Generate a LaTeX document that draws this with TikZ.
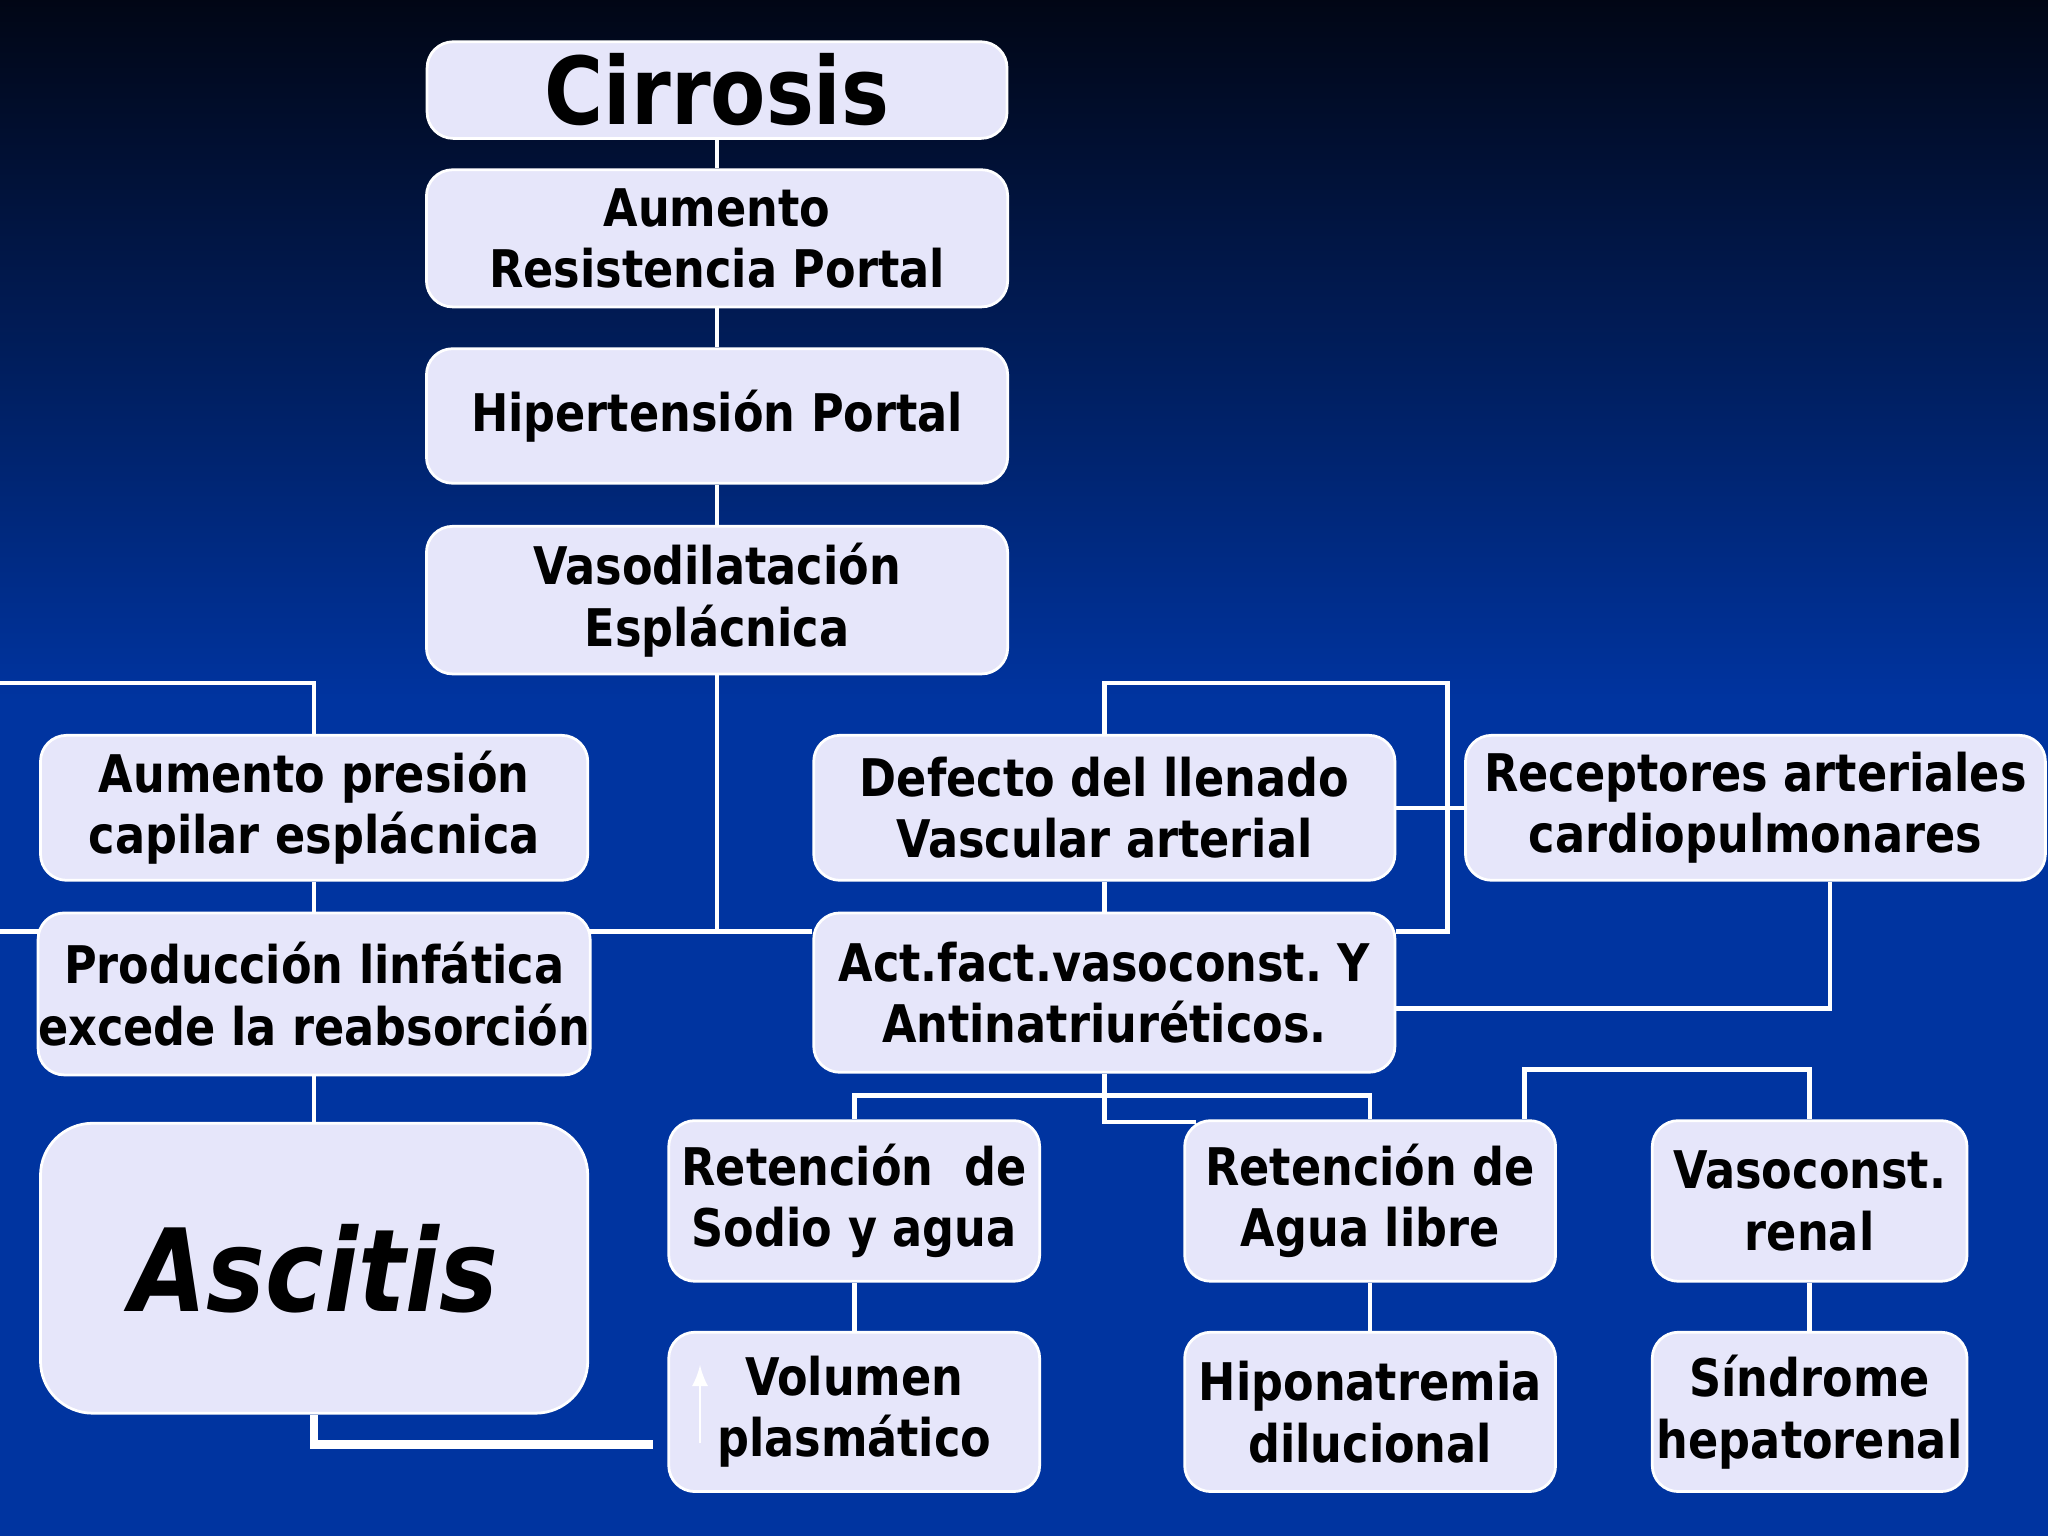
\documentclass[tikz,border=0pt]{standalone}
\usepackage{fontspec}
\setmainfont{DejaVu Sans}[FakeStretch=0.86]
\frenchspacing
\usetikzlibrary{shapes,arrows,backgrounds}
\definecolor{bgtop}{HTML}{01040F}
\definecolor{bgmid}{HTML}{001850}
\definecolor{bgblue}{HTML}{0034A0}
\definecolor{boxfill}{HTML}{E6E6FA}
\tikzstyle{block} = [draw=white, line width=0.6pt, fill=boxfill, rectangle,
    rounded corners=0.2cm, inner sep=0pt, align=center, text=black,
    font=\fontsize{11.3}{13.4}\selectfont\bfseries]
\tikzstyle{link} = [draw=white, line width=1pt]
\begin{document}
\begin{tikzpicture}
\useasboundingbox (0,0) rectangle (15.68,11.76);
 \coordinate (jT) at (-0.1,6.53);
 \coordinate (jL) at (-0.1,4.63);
 \coordinate (jR) at (11.08,6.53);
 \coordinate (vend) at (5.00,0.70);

% central column
\node[block, name=cirrosis, minimum width=4.44cm, minimum height=0.74cm,
  font=\fontsize{20.4}{24}\selectfont\bfseries] at (5.49,11.07) {Cirrosis};
\node[block, name=resist, minimum width=4.45cm, minimum height=1.05cm] at (5.49,9.935) {Aumento\\Resistencia Portal};
\node[block, name=hiper, minimum width=4.45cm, minimum height=1.03cm] at (5.49,8.575) {Hipertensión Portal};
\node[block, name=vaso, minimum width=4.45cm, minimum height=1.13cm] at (5.49,7.165) {Vasodilatación\\Esplácnica};

% left column
\node[block, name=presion, minimum width=4.19cm, minimum height=1.11cm] at (2.405,5.575) {Aumento presión\\capilar esplácnica};
\node[block, name=linfa, minimum width=4.19cm, minimum height=1.24cm] at (2.405,4.15) {Producción linfática\\excede la reabsorción};
\node[block, name=ascitis, minimum width=4.19cm, minimum height=2.22cm, rounded corners=0.4cm,
  font=\fontsize{25}{30}\selectfont\bfseries\itshape] at (2.405,2.05) {Ascitis};

% right part
\node[block, name=defecto, minimum width=4.45cm, minimum height=1.11cm] at (8.455,5.575) {Defecto del llenado\\Vascular arterial};
\node[block, name=recept, minimum width=4.44cm, minimum height=1.11cm] at (13.44,5.575) {Receptores arteriales\\cardiopulmonares};
\node[block, name=act, minimum width=4.45cm, minimum height=1.22cm] at (8.455,4.16) {Act.fact.vasoconst. Y\\Antinatriuréticos.};

\node[block, name=sodio, minimum width=2.84cm, minimum height=1.23cm] at (6.54,2.565) {Retención~~de\\Sodio y agua};
\node[block, name=agua, minimum width=2.84cm, minimum height=1.23cm] at (10.49,2.565) {Retención de\\Agua libre};
\node[block, name=renal, minimum width=2.41cm, minimum height=1.23cm] at (13.855,2.565) {Vasoconst.\\renal};
\node[block, name=volumen, minimum width=2.84cm, minimum height=1.22cm] at (6.54,0.95) {Volumen\\plasmático};
\node[block, name=hipona, minimum width=2.84cm, minimum height=1.22cm] at (10.49,0.95) {Hiponatremia\\dilucional};
\node[block, name=hepato, minimum width=2.41cm, minimum height=1.22cm] at (13.855,0.95) {Síndrome\\hepatorenal};

\draw[white, line width=0.6pt, -latex] ([xshift=0.25cm,yshift=-0.24cm]volumen.west) -- ++(0,0.6);

\begin{scope}[on background layer]
\fill[bgblue] (-0.2,-0.2) rectangle (15.9,6.4);
\shade[top color=bgtop, middle color=bgmid, bottom color=bgblue] (-0.2,6.39) rectangle (15.9,12.0);

\draw[link] (cirrosis.south) -- (resist.north);
\draw[link] (resist.south) -- (hiper.north);
\draw[link] (hiper.south) -- (vaso.north);
\draw[link] (vaso.south) -- (vaso.south |- jL);
\draw[link] (jL) -- (act.west |- jL);
\draw[link] (jT) -| (presion.north);
\draw[link] (presion.south) -- (linfa.north);
\draw[link] (linfa.south) -- (ascitis.north);
\draw[link, line width=1.8pt] (ascitis.south) |- (vend);

\draw[link] (defecto.north) |- (jR) -- (jR |- jL) -- (act.east |- jL);
\draw[link] (defecto.east) -- (recept.west);
\draw[link] (defecto.south) -- (act.north);
\draw[link] ([xshift=0.57cm]recept.south) |- ([yshift=-0.12cm]act.east);

\draw[link] (act.south) |- ([xshift=0.1cm,yshift=-0.02cm]agua.north west);
\draw[link] (sodio.north) -- ++(0,0.18) -| (agua.north);
\draw[link] ([xshift=1.18cm]agua.north) -- ++(0,0.38) -| (renal.north);
\draw[link] (sodio.south) -- (volumen.north);
\draw[link] (agua.south) -- (hipona.north);
\draw[link] (renal.south) -- (hepato.north);
\end{scope}

\end{tikzpicture}
\end{document}
